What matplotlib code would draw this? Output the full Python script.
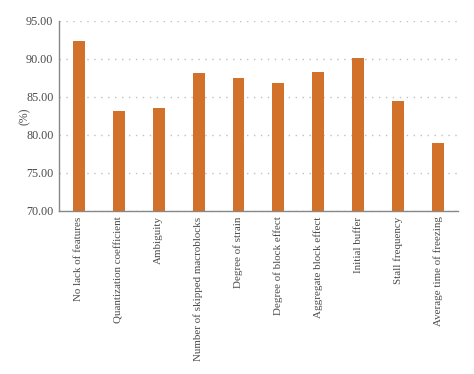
import matplotlib
matplotlib.use("Agg")
import matplotlib.pyplot as plt

categories = ["No lack of features", "Quantization coefficient", "Ambiguity",
              "Number of skipped macroblocks", "Degree of strain",
              "Degree of block effect", "Aggregate block effect",
              "Initial buffer", "Stall frequency", "Average time of freezing"]
values = [92.3, 83.2, 83.6, 88.2, 87.5, 86.8, 88.3, 90.1, 84.5, 78.9]
yticks = [70, 75, 80, 85, 90, 95]

plt.rcParams['font.family'] = ['Liberation Serif', 'DejaVu Serif']

fig = plt.figure(figsize=(4.74, 3.74), dpi=100)
ax = fig.add_axes([0.1245, 0.436, 0.8415, 0.508])

ax.bar(range(len(values)), values, width=0.3, color="#D2722A", zorder=3)
ax.set_xlim(-0.5, len(values) - 0.5)
ax.set_ylim(70, 95)
ax.set_yticks(yticks)
ax.set_yticklabels(["%.2f" % t for t in yticks], fontsize=8.7)
ax.set_xticks(range(len(values)))
ax.set_xticklabels(categories, rotation=90, fontsize=7.9)
ax.tick_params(axis='both', length=0, colors="#4a4a4a", pad=4)
ax.set_ylabel("(%)", fontsize=8.5, color="#4a4a4a", labelpad=0)
ax.yaxis.set_label_coords(-0.07, 0.5)

ax.yaxis.grid(True, linestyle=(0, (1, 4)), color="#c0c0c0", linewidth=1.0, zorder=0)
for s in ["top", "right"]:
    ax.spines[s].set_visible(False)
for s in ["left", "bottom"]:
    ax.spines[s].set_color("#888888")
    ax.spines[s].set_linewidth(1.0)

fig.savefig("out.png", dpi=100)
